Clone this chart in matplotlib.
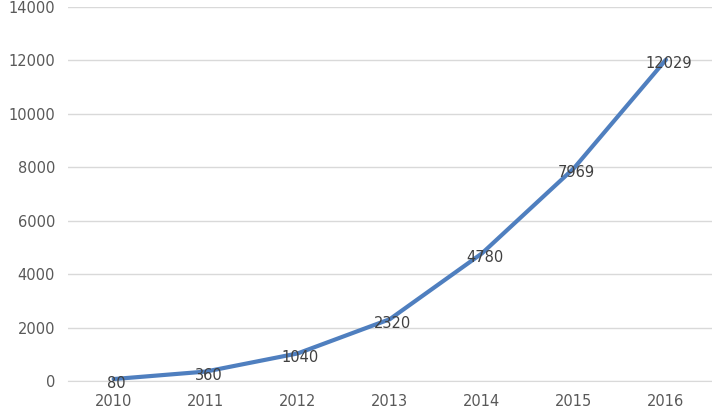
import matplotlib.pyplot as plt

plt.rcParams['font.family'] = ['DejaVu Sans']

years = ['2010', '2011', '2012', '2013', '2014', '2015', '2016']
values = [80, 360, 1040, 2320, 4780, 7969, 12029]

fig = plt.figure(figsize=(7.12, 4.13), dpi=100)
ax = fig.add_axes([0.095, 0.077, 0.905, 0.906])

x = list(range(len(years)))
ax.plot(x, values, color='#4f7fbf', linewidth=3, solid_capstyle='round')
for xi, v in zip(x, values):
    ax.text(xi + 0.03, v - 150, str(v), ha='center', va='center', fontsize=10.5, color='#404040')

ax.set_xlim(-0.5, len(years) - 0.5)
ax.set_ylim(0, 14000)
ax.set_yticks(range(0, 14001, 2000))
ax.set_xticks(x)
ax.set_xticklabels(years)
ax.grid(axis='y', color='#d9d9d9', linewidth=1)
ax.set_axisbelow(True)
for s in ['top', 'right', 'left']:
    ax.spines[s].set_visible(False)
ax.spines['bottom'].set_color('#d9d9d9')
ax.tick_params(length=0, labelsize=10.5, labelcolor='#595959', pad=9)

fig.savefig('out.png', dpi=100)
